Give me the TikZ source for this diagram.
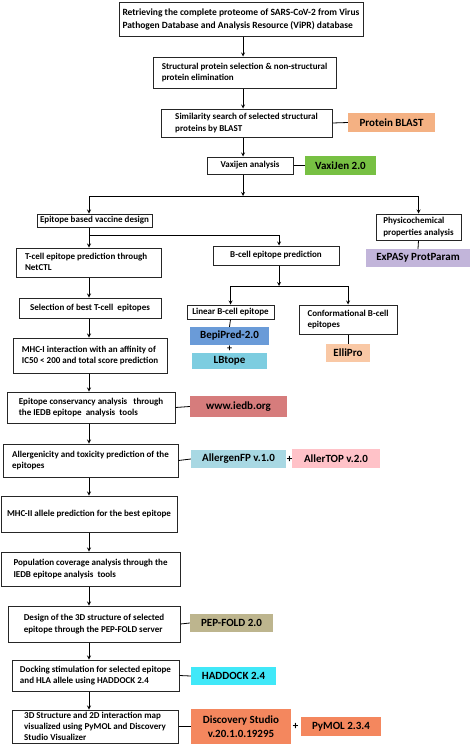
\documentclass[tikz,border=0pt]{standalone}
\usepackage{fontspec}
\setmainfont{Carlito}
\usepackage{tikz}
\usetikzlibrary{shapes.geometric, arrows, calc, positioning, arrows.meta}

\definecolor{blastc}{HTML}{F4B183}
\definecolor{vaxic}{HTML}{77C043}
\definecolor{expasyc}{HTML}{C2B5DA}
\definecolor{bepic}{HTML}{6A9BD8}
\definecolor{lbtc}{HTML}{7DCDE0}
\definecolor{ellic}{HTML}{F9C8A5}
\definecolor{iedbc}{HTML}{D67C7C}
\definecolor{afpc}{HTML}{A8D8E3}
\definecolor{atopc}{HTML}{FFC2C8}
\definecolor{pepc}{HTML}{BDB58E}
\definecolor{hadc}{HTML}{40E8F8}
\definecolor{discc}{HTML}{F4875E}

\tikzstyle{stepbox} = [rectangle, draw=black!85, line width=1pt, fill=white, align=left, inner sep=0pt, font=\bfseries\fontsize{9}{11.5}\selectfont]
\tikzstyle{tool} = [rectangle, inner xsep=3pt, inner ysep=1pt, align=center, font=\bfseries\fontsize{11}{13}\selectfont]
\tikzstyle{plus} = [inner sep=0pt, font=\bfseries\fontsize{11}{11}\selectfont]
\tikzstyle{arrow} = [line width=0.8pt,->,>=stealth]
\tikzstyle{link} = [line width=0.8pt]

\begin{document}
\begin{tikzpicture}[x=1pt, y=-1pt]
	\useasboundingbox (0,0) rectangle (474,744);
	\coordinate (main) at (243,0);
	\coordinate (lcol) at (89,0);
	\coordinate (bcol) at (279,0);
	\coordinate (split1) at (243,196);
	\coordinate (split2) at (89,235);
	\coordinate (split3) at (279,286);

	% upper chain
	\node[stepbox, minimum width=244pt, minimum height=34pt, font=\bfseries\fontsize{9.5}{13}\selectfont] (retrieve) at (241,19) {Retrieving the complete proteome of SARS-CoV-2 from Virus\\Pathogen Database and Analysis Resource (ViPR) database};
	\node[stepbox, minimum width=183pt, minimum height=31pt] (structural) at (244.5,72.5) {Structural protein selection \& non-structural\\protein elimination};
	\node[stepbox, minimum width=171pt, minimum height=28pt] (similarity) at (246.5,123) {Similarity search of selected structural\\proteins by BLAST};
	\node[stepbox, minimum width=86pt, minimum height=17pt] (vaxijen) at (250,165.5) {Vaxijen analysis};
	\node[tool, fill=blastc, minimum width=87pt, minimum height=19pt] (blast) at (391.5,122.5) {Protein BLAST};
	\node[tool, fill=vaxic, minimum width=71pt, minimum height=19pt] (vaxitool) at (340.5,165.5) {VaxiJen 2.0};

	% branches
	\node[stepbox, minimum width=115pt, minimum height=13pt] (design) at (94.5,220.5) {Epitope based vaccine design};
	\node[stepbox, minimum width=85pt, minimum height=26pt] (physico) at (418.5,227) {Physicochemical\\properties analysis};
	\node[tool, fill=expasyc, minimum width=104pt, minimum height=18pt] (expasy) at (418,258) {ExPASy ProtParam};
	\node[stepbox, minimum width=145pt, minimum height=29pt] (tcell) at (88.5,262.5) {T-cell epitope prediction through\\NetCTL\phantom{T-cell epitope prediction th}};
	\node[stepbox, minimum width=126pt, minimum height=19pt] (bcell) at (276,255.5) {B-cell epitope prediction};
	\node[stepbox, minimum width=87pt, minimum height=14pt] (linear) at (230.5,312) {Linear B-cell epitope};
	\node[stepbox, minimum width=98pt, minimum height=29pt] (conform) at (348,319.5) {Conformational B-cell\\epitopes};
	\node[tool, fill=bepic, minimum width=79pt, minimum height=18pt] (bepipred) at (229.5,336) {BepiPred-2.0};
	\node[plus, font=\bfseries\fontsize{10}{10}\selectfont] (plusB) at (229.5,349) {+};
	\node[tool, fill=lbtc, minimum width=75pt, minimum height=16pt] (lbtope) at (229.5,361) {LBtope};
	\node[tool, fill=ellic, minimum width=44pt, minimum height=18pt] (ellipro) at (348,353) {ElliPro};

	% left chain
	\node[stepbox, minimum width=142pt, minimum height=20pt] (select) at (90,308) {Selection of best T-cell\ \ epitopes};
	\node[stepbox, minimum width=154pt, minimum height=35pt] (mhcone) at (90,355.5) {MHC-I interaction with an affinity of\\IC50 < 200 and total score prediction};
	\node[stepbox, minimum width=168pt, minimum height=31pt] (conserv) at (91,407.5) {Epitope conservancy analysis \ \ through\\the IEDB epitope\ \ analysis\ \ tools};
	\node[stepbox, minimum width=175pt, minimum height=33pt] (allergen) at (90.5,460.5) {Allergenicity and toxicity prediction of the\\epitopes};
	\node[stepbox, minimum width=176pt, minimum height=36pt] (mhctwo) at (89,514) {MHC-II allele prediction for the best epitope};
	\node[stepbox, minimum width=179pt, minimum height=34pt] (population) at (90.5,569) {Population coverage analysis through the\\IEDB epitope analysis\ \ tools};
	\node[stepbox, minimum width=172pt, minimum height=36pt] (structure) at (94,624) {Design of the 3D structure of selected\\epitope through the PEP-FOLD server};
	\node[stepbox, minimum width=167pt, minimum height=31pt] (docking) at (95.5,675.5) {Docking stimulation for selected epitope\\and HLA allele using HADDOCK 2.4};
	\node[stepbox, minimum width=166pt, minimum height=33pt, font=\bfseries\fontsize{9}{11}\selectfont] (visual) at (95,726.5) {3D Structure and 2D interaction map\\visualized using PyMOL and Discovery\\Studio Visualizer};

	% tools of the left chain
	\node[tool, fill=iedbc, minimum width=97pt, minimum height=21pt] (iedb) at (238.5,406.5) {www.iedb.org};
	\node[tool, fill=afpc, minimum width=95pt, minimum height=18pt] (allergenfp) at (238.5,459) {AllergenFP v.1.0};
	\node[plus] (plusA) at (289.5,459) {+};
	\node[tool, fill=atopc, minimum width=88pt, minimum height=19pt] (allertop) at (336,458.5) {AllerTOP v.2.0};
	\node[tool, fill=pepc, minimum width=83pt, minimum height=18pt] (pepfold) at (231.5,623) {PEP-FOLD 2.0};
	\node[tool, fill=hadc, minimum width=85pt, minimum height=18pt] (haddock) at (233.5,676) {HADDOCK 2.4};
	\node[tool, fill=discc, minimum width=100pt, minimum height=35pt, inner ysep=0pt, font=\bfseries\fontsize{11}{14}\selectfont] (discovery) at (241,726.5) {Discovery Studio\\v.20.1.0.19295};
	\node[plus] (plusC) at (295.5,726) {+};
	\node[tool, fill=discc, minimum width=80pt, minimum height=19pt] (pymol) at (341,726.5) {PyMOL 2.3.4};

	% connectors
	\draw[arrow] (retrieve.south -| main) -- (structural.north -| main);
	\draw[arrow] (structural.south -| main) -- (similarity.north -| main);
	\draw[arrow] (similarity.south -| main) -- (vaxijen.north -| main);
	\draw[arrow] (vaxijen.south -| main) -- (split1);
	\draw[link] (similarity.east) -- (blast.west);
	\draw[link] (vaxijen.east) -- (vaxitool.west);
	\draw[link] (lcol |- split1) -- (physico.north |- split1);
	\draw[arrow] (lcol |- split1) -- (lcol |- design.north);
	\draw[arrow] (physico.north |- split1) -- (physico.north);
	\draw[link] (physico.south) -- (expasy.north);
	\draw[link] (lcol |- design.south) -- (split2) -- (bcol |- split2);
	\draw[arrow] (split2) -- (lcol |- tcell.north);
	\draw[arrow] (bcol |- split2) -- (bcol |- bcell.north);
	\draw[arrow] (bcol |- bcell.south) -- (split3);
	\draw[link] (linear.north |- split3) -- (conform.north |- split3);
	\draw[arrow] (linear.north |- split3) -- (linear.north);
	\draw[arrow] (conform.north |- split3) -- (conform.north);
	\draw[link] (linear.south) -- (bepipred.north);
	\draw[link] (conform.south) -- (ellipro.north);
	\foreach \a/\b in {tcell/select, select/mhcone, mhcone/conserv, conserv/allergen, allergen/mhctwo, mhctwo/population, population/structure, structure/docking, docking/visual}
		\draw[arrow] (lcol |- \a.south) -- (lcol |- \b.north);
	\draw[link] (conserv.east) -- (iedb.west);
	\draw[link] (allergen.east) -- (allergenfp.west);
	\draw[link] (structure.east) -- (pepfold.west);
	\draw[link] (docking.east) -- (haddock.west);
	\draw[link] (visual.east) -- (discovery.west);
\end{tikzpicture}
\end{document}
